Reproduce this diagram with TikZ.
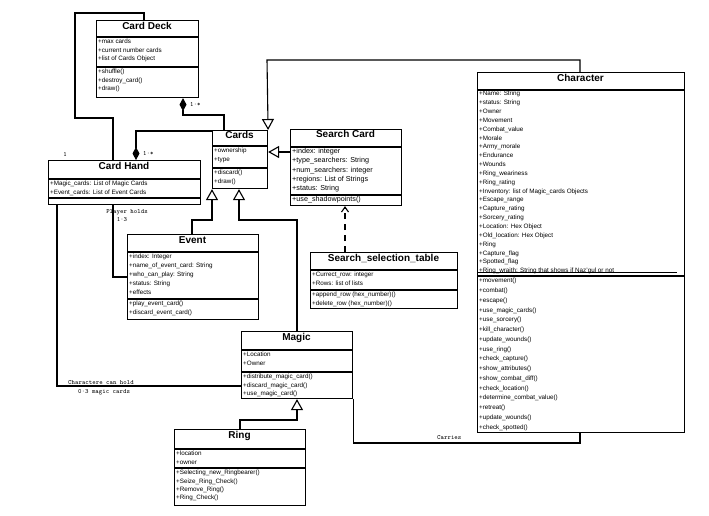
\documentclass[tikz,border=0pt]{standalone}
\usepackage{fontspec}
\setmainfont{Liberation Sans}
\usetikzlibrary{arrows.meta,calc}
\begin{document}
\begin{tikzpicture}[x=1pt,y=-1pt,
 box/.style={draw,line width=1.1pt,anchor=north west,inner sep=0pt},
 ttl/.style={font=\bfseries\fontsize{10}{12}\selectfont,anchor=north,inner sep=0pt},
 txt/.style={font=\fontsize{6.3}{8.3}\selectfont,anchor=north west,align=left,inner sep=0pt},
 lab/.style={font=\ttfamily\fontsize{6.5}{7.5}\selectfont,inner sep=0pt},
 ln/.style={line width=1.1pt},
 inh/.style={ln,-{Triangle[open,length=11pt,width=12pt]}},
 comp/.style={ln,{Diamond[length=13pt,width=7pt]}-}]
\useasboundingbox (0,0) rectangle (709,515);
% Card Deck
\node[box,minimum width=102pt,minimum height=77pt] (deck) at (96,20) {};
\node[ttl] at (147,22) {Card Deck};
\draw[ln] (96,37)--(198,37) (96,67)--(198,67);
\node[txt] at (98,39) {+max cards\\+current number cards\\+list of Cards Object};
\node[txt] at (98,69) {+shuffle()\\+destroy\_card()\\+draw()};
% Cards
\node[box,minimum width=55pt,minimum height=58pt] (cards) at (212,130) {};
\node[ttl] at (239.5,131) {Cards};
\draw[ln] (212,146)--(267,146) (212,168)--(267,168);
\node[txt] at (214,148) {+ownership\\+type};
\node[txt] at (214,170) {+discard()\\+draw()};
% Card Hand
\node[box,minimum width=152pt,minimum height=44pt] (hand) at (48,160) {};
\node[ttl] at (124,162) {Card Hand};
\draw[ln] (48,179)--(200,179) (48,198)--(200,198);
\node[txt] at (50,181) {+Magic\_cards: List of Magic Cards\\+Event\_cards: List of Event Cards};
% Search Card
\node[box,minimum width=111pt,minimum height=76pt] (search) at (290,129) {};
\node[ttl] at (345.5,130) {Search Card};
\draw[ln] (290,147)--(401,147) (290,195)--(401,195);
\node[txt,font=\fontsize{7.2}{9.3}\selectfont] at (292,148) {+index: integer\\+type\_searchers: String\\+num\_searchers: integer\\+regions: List of Strings\\+status: String};
\node[txt,font=\fontsize{7.2}{9.3}\selectfont] at (292,196) {+use\_shadowpoints()};
% Search selection table
\node[box,minimum width=147pt,minimum height=56pt] (sst) at (310,252) {};
\node[ttl] at (383.5,254) {Search\_selection\_table};
\draw[ln] (310,270)--(457,270) (310,290)--(457,290);
\node[txt] at (312,272) {+Currect\_row: integer\\+Rows: list of lists};
\node[txt] at (312,292) {+append\_row (hex\_number)()\\+delete\_row (hex\_number)()};
% Event
\node[box,minimum width=131pt,minimum height=85pt] (event) at (127,234) {};
\node[ttl] at (192.5,236) {Event};
\draw[ln] (127,252)--(258,252) (127,299)--(258,299);
\node[txt,font=\fontsize{6.3}{8.9}\selectfont] at (129,254) {+index: Integer\\+name\_of\_event\_card: String\\+who\_can\_play: String\\+status: String\\+effects};
\node[txt] at (129,301) {+play\_event\_card()\\+discard\_event\_card()};
% Magic
\node[box,minimum width=111pt,minimum height=67pt] (magic) at (241,331) {};
\node[ttl] at (296.5,333) {Magic};
\draw[ln] (241,350)--(352,350) (241,372)--(352,372);
\node[txt] at (243,352) {+Location\\+Owner};
\node[txt] at (243,374) {+distribute\_magic\_card()\\+discard\_magic\_card()\\+use\_magic\_card()};
% Ring
\node[box,minimum width=131pt,minimum height=76pt] (ring) at (174,429) {};
\node[ttl] at (239.5,431) {Ring};
\draw[ln] (174,449)--(305,449) (174,468)--(305,468);
\node[txt] at (176,451) {+location\\+owner};
\node[txt] at (176,470) {+Selecting\_new\_Ringbearer()\\+Seize\_Ring\_Check()\\+Remove\_Ring()\\+Ring\_Check()};
% Character
\node[box,minimum width=207pt,minimum height=360pt] (char) at (477,72) {};
\node[ttl] at (580.5,74) {Character};
\draw[ln] (477,90)--(684,90) (477,276)--(684,276);
\draw[line width=0.5pt] (478,272.5)--(677,272.5);
\node[txt,font=\fontsize{6.3}{8.85}\selectfont] at (479,91) {+Name: String\\+status: String\\+Owner\\+Movement\\+Combat\_value\\+Morale\\+Army\_morale\\+Endurance\\+Wounds\\+Ring\_weariness\\+Ring\_rating\\+Inventory: list of Magic\_cards Objects\\+Escape\_range\\+Capture\_rating\\+Sorcery\_rating\\+Location: Hex Object\\+Old\_location: Hex Object\\+Ring\\+Capture\_flag\\+Spotted\_flag\\+Ring\_wraith: String that shows if Naz'gul or not};
\node[txt,font=\fontsize{6.3}{9.75}\selectfont] at (479,278) {+movement()\\+combat()\\+escape()\\+use\_magic\_cards()\\+use\_sorcery()\\+kill\_character()\\+update\_wounds()\\+use\_ring()\\+check\_capture()\\+show\_attributes()\\+show\_combat\_diff()\\+check\_location()\\+determine\_combat\_value()\\+retreat()\\+update\_wounds()\\+check\_spotted()};
% connectors
\draw[ln] (deck.north west)++(48,0) coordinate (d1) -- ++(0,-7) -| (75,118) -| ($(hand.north west)+(65,0)$);
\draw[comp] ($(deck.south west)+(87,0)$) |- (224,115) -- ($(cards.north west)+(12,0)$);
\node[lab,anchor=west] at (190,104) {1·*};
\draw[comp] ($(hand.north west)+(88,0)$) |- ($(cards.north west)+(0,1)$);
\node[lab,anchor=west] at (143,153) {1·*};
\draw[inh] ($(char.north west)+(103,0)$) |- (267,60) -- (cards.north east);
\draw[inh] (search.west |- 0,152) -- (cards.east |- 0,152);
\draw[inh] ($(event.north west)+(65,0)$) |- (212,220) -- (cards.south west);
\draw[inh] ($(magic.north west)+(56,0)$) |- (239,220) -- ($(cards.south west)+(27,0)$);
\draw[inh] ($(ring.north west)+(66,0)$) |- (297,420) -- ($(magic.south west)+(56,0)$);
\draw[ln] ($(hand.south west)+(65,0)$) |- (event.west |- 0,277);
\node[lab] at (127,212) {Player holds};
\node[lab] at (122,220) {1·3};
\draw[ln] ($(hand.south west)+(9,0)$) |- (magic.west |- 0,386);
\node[lab,anchor=west] at (68,383) {Charactere can hold};
\node[lab,anchor=west] at (78,392) {0·3 magic cards};
\draw[ln] (magic.south east) |- (580,443) -- ($(char.south west)+(103,0)$);
\node[lab,anchor=west] at (437,438) {Carries};
\node[lab] at (65,154) {1};
\draw[ln,dashed,dash pattern=on 6pt off 5pt,-{Straight Barb[length=5pt,width=7pt]}] ($(sst.north west)+(35,0)$) -- ($(search.south west)+(55,0)$);
\end{tikzpicture}
\end{document}
